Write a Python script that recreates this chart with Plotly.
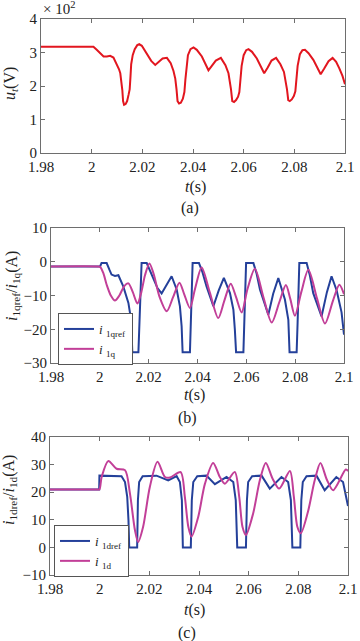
import plotly.graph_objects as go

# ---------------- data ----------------
# (a) terminal voltage u_t, in units of 1e2 V
t_a = [1.98, 2.0007, 2.002, 2.0035, 2.0047, 2.006, 2.0073, 2.0086, 2.0100, 2.0108,
       2.0113, 2.0118, 2.0121, 2.0124, 2.0128, 2.0134, 2.0140, 2.0146, 2.0150, 2.0153,
       2.0156, 2.0162, 2.0170, 2.0180, 2.0188, 2.0198, 2.0218, 2.0235, 2.0251, 2.0265,
       2.0280, 2.0297, 2.0312, 2.0323, 2.0330, 2.0335, 2.0339, 2.0345, 2.0352, 2.0360,
       2.0366, 2.0370, 2.0374, 2.0380, 2.0390, 2.0402, 2.0415, 2.0435, 2.0461, 2.0475,
       2.0490, 2.0510, 2.0528, 2.0540, 2.0546, 2.0550, 2.0555, 2.0562, 2.0570, 2.0578,
       2.0583, 2.0587, 2.0592, 2.0600, 2.0610, 2.0619, 2.0633, 2.0652, 2.0681, 2.0695,
       2.0710, 2.0728, 2.0745, 2.0759, 2.0766, 2.0771, 2.0776, 2.0782, 2.0790, 2.0798,
       2.0804, 2.0808, 2.0813, 2.0822, 2.0832, 2.0842, 2.0856, 2.0875, 2.0904, 2.0918,
       2.0935, 2.0951, 2.0965, 2.0978, 2.0990, 2.1000]
u_t = [3.17, 3.17, 3.08, 2.95, 2.88, 2.88, 2.90, 2.85, 2.65, 2.50,
       2.38, 2.15, 1.88, 1.55, 1.44, 1.46, 1.55, 1.75, 1.90, 2.25,
       2.65, 2.92, 3.10, 3.22, 3.25, 3.20, 2.95, 2.75, 2.63, 2.72,
       2.82, 2.84, 2.68, 2.45, 2.22, 1.90, 1.55, 1.48, 1.50, 1.62,
       1.82, 2.20, 2.60, 2.92, 3.10, 3.15, 3.08, 2.88, 2.47, 2.60,
       2.76, 2.84, 2.62, 2.38, 2.15, 1.90, 1.55, 1.52, 1.58, 1.68,
       1.82, 2.20, 2.60, 2.92, 3.07, 3.10, 3.02, 2.82, 2.38, 2.55,
       2.76, 2.84, 2.65, 2.42, 2.15, 1.90, 1.58, 1.55, 1.60, 1.70,
       1.84, 2.20, 2.60, 2.95, 3.07, 3.08, 2.98, 2.78, 2.35, 2.52,
       2.74, 2.84, 2.72, 2.52, 2.30, 2.05]

# (b) q-axis current reference i_1qref and current i_1q (A)
t_qref = [1.98, 2.0001, 2.0007, 2.0028, 2.0040, 2.0048, 2.0062, 2.0076, 2.0096, 2.0117,
          2.0128, 2.0133, 2.0158, 2.0162, 2.0166, 2.0171, 2.0192, 2.0205, 2.0219, 2.0236,
          2.0253, 2.0272, 2.0294, 2.0315, 2.0328, 2.0335, 2.0339, 2.0369, 2.0373, 2.0376,
          2.0380, 2.0406, 2.0420, 2.0437, 2.0465, 2.0487, 2.0508, 2.0533, 2.0547, 2.0553,
          2.0558, 2.0588, 2.0592, 2.0595, 2.0599, 2.0629, 2.0642, 2.0656, 2.0690, 2.0710,
          2.0731, 2.0758, 2.0772, 2.0777, 2.0806, 2.0810, 2.0813, 2.0817, 2.0847, 2.0860,
          2.0874, 2.0908, 2.0930, 2.0949, 2.0970, 2.0990, 2.1000]
i_qref = [-1.4, -1.4, -0.4, -0.4, -2.5, -3.8, -4.2, -4.0, -7.3, -12.2,
          -17.2, -26.8, -26.8, -18.0, -6.0, -0.4, -0.4, -2.5, -5.3, -7.8,
          -9.4, -7.0, -4.3, -8.3, -13.2, -19.1, -26.8, -26.8, -18.0, -6.0,
          -0.4, -0.4, -3.0, -7.3, -13.2, -8.5, -4.8, -9.3, -14.2, -20.1,
          -26.8, -26.8, -18.0, -6.0, -0.4, -0.4, -3.5, -8.3, -15.7, -9.5,
          -4.8, -11.2, -17.2, -26.8, -26.8, -18.0, -6.0, -0.4, -0.4, -4.0,
          -9.3, -16.2, -9.0, -4.3, -8.5, -15.0, -21.6]
t_q = [1.98, 1.999, 2.0001, 2.0015, 2.0028, 2.0045, 2.0062, 2.0080, 2.0100, 2.0117, 2.0135,
       2.0154, 2.0170, 2.0185, 2.0203, 2.0220, 2.0245, 2.0274, 2.0300, 2.0326, 2.0345,
       2.0369, 2.0390, 2.0417, 2.0450, 2.0485, 2.0510, 2.0536, 2.0558, 2.0581, 2.0605,
       2.0635, 2.0670, 2.0704, 2.0735, 2.0762, 2.0780, 2.0799, 2.0825, 2.0854, 2.0890,
       2.0922, 2.0955, 2.0981, 2.1000]
i_q = [-1.4, -1.4, -1.5, -3.5, -6.8, -10.0, -11.5, -10.0, -7.2, -6.4, -9.0,
       -12.4, -9.0, -4.0, -0.5, -3.5, -10.5, -14.7, -10.5, -6.2, -9.5,
       -13.7, -8.0, -1.7, -9.0, -16.7, -11.5, -6.5, -10.5, -15.0, -8.0,
       -2.1, -10.5, -18.0, -12.0, -6.9, -11.0, -16.0, -9.0, -2.4, -11.0,
       -18.3, -11.5, -6.8, -9.6]

# (c) d-axis current reference i_1dref and current i_1d (A)
t_dref = [1.98, 1.9998, 1.9999, 2.0040, 2.0088, 2.0102, 2.0111, 2.0116, 2.0119, 2.0151,
          2.0154, 2.0159, 2.0173, 2.0229, 2.0256, 2.0276, 2.0310, 2.0323, 2.0331, 2.0335,
          2.0367, 2.0371, 2.0377, 2.0393, 2.0430, 2.0464, 2.0511, 2.0538, 2.0548, 2.0554,
          2.0589, 2.0593, 2.0598, 2.0614, 2.0652, 2.0685, 2.0732, 2.0759, 2.0770, 2.0776,
          2.0808, 2.0812, 2.0818, 2.0833, 2.0873, 2.0906, 2.0953, 2.0980, 2.1000]
i_dref = [21.0, 21.0, 26.0, 26.0, 25.8, 23.7, 18.3, 9.9, 0.0, 0.0,
          17.1, 23.7, 25.8, 26.0, 24.9, 24.3, 25.8, 23.7, 17.1, 0.0,
          0.0, 17.1, 23.7, 25.8, 26.0, 22.9, 25.5, 23.7, 17.1, 0.0,
          0.0, 17.1, 23.7, 25.8, 26.0, 21.3, 25.5, 23.7, 17.1, 0.0,
          0.0, 17.1, 23.7, 25.8, 26.0, 20.7, 25.5, 23.7, 15.0]
t_d = [1.98, 1.999, 1.9999, 2.0008, 2.0035, 2.0068, 2.0102, 2.0122, 2.0142, 2.0155, 2.0175,
       2.0202, 2.0233, 2.0263, 2.0283, 2.0326, 2.0343, 2.0357, 2.0370, 2.0397, 2.0424,
       2.0457, 2.0484, 2.0504, 2.0544, 2.0562, 2.0575, 2.0589, 2.0618, 2.0645, 2.0669,
       2.0696, 2.0723, 2.0766, 2.0782, 2.0796, 2.0810, 2.0839, 2.0866, 2.0889, 2.0915,
       2.0940, 2.0991, 2.1000]
i_d = [21.0, 21.0, 21.0, 25.5, 31.3, 28.5, 28.0, 19.5, 6.3, 2.0, 7.5,
       21.9, 31.0, 25.5, 25.3, 27.3, 18.3, 7.5, 3.9, 11.1, 23.1,
       30.6, 25.5, 23.1, 27.3, 18.3, 7.5, 4.5, 12.3, 24.3, 30.6,
       25.0, 21.3, 27.7, 18.3, 7.5, 5.1, 13.0, 24.3, 30.6, 24.5,
       20.7, 28.2, 27.7]

x_ticks = [1.98, 2.0, 2.02, 2.04, 2.06, 2.08, 2.1]
x_tick_text = ["1.98", "2", "2.02", "2.04", "2.06", "2.08", "2.1"]

# ---------------- layout helpers ----------------
W, H = 360, 641
FONT = "Liberation Serif, Times New Roman, DejaVu Serif, serif"
RED, BLUE, PINK = "#E2161F", "#24409A", "#C23F98"
AXC = "#6e6e6e"


def fx(px):
    return px / W


def fy(py):
    return 1 - py / H


def axis(**kw):
    base = dict(showgrid=False, zeroline=False, showline=True, linecolor=AXC, linewidth=1,
                mirror="allticks", ticks="inside", ticklen=4, tickcolor=AXC, automargin=False,
                tickfont=dict(family=FONT, size=15, color="#222"))
    base.update(kw)
    return base


fig = go.Figure()
fig.add_trace(go.Scatter(x=t_a, y=u_t, mode="lines", line=dict(color=RED, width=2),
                         xaxis="x", yaxis="y", showlegend=False))
fig.add_trace(go.Scatter(x=t_qref, y=i_qref, mode="lines", line=dict(color=BLUE, width=2),
                         xaxis="x2", yaxis="y2", name="<i>i</i> <sub>1qref</sub>", legend="legend"))
fig.add_trace(go.Scatter(x=t_q, y=i_q, mode="lines", line=dict(color=PINK, width=2, shape="spline", smoothing=0.8),
                         xaxis="x2", yaxis="y2", name="<i>i</i> <sub>1q</sub>", legend="legend"))
fig.add_trace(go.Scatter(x=t_dref, y=i_dref, mode="lines", line=dict(color=BLUE, width=2),
                         xaxis="x3", yaxis="y3", name="<i>i</i> <sub>1dref</sub>", legend="legend2"))
fig.add_trace(go.Scatter(x=t_d, y=i_d, mode="lines", line=dict(color=PINK, width=2, shape="spline", smoothing=0.8),
                         xaxis="x3", yaxis="y3", name="<i>i</i> <sub>1d</sub>", legend="legend2"))

xcommon = dict(range=[1.98, 2.1], tickvals=x_ticks, ticktext=x_tick_text)
legend_style = dict(bgcolor="white", bordercolor="#555", borderwidth=1,
                    font=dict(family=FONT, size=13, color="#222"), itemwidth=30,
                    xanchor="left", yanchor="top", tracegroupgap=0)

fig.update_layout(
    template="none",
    width=W, height=H, margin=dict(l=0, r=0, t=0, b=0, pad=0, autoexpand=False),
    paper_bgcolor="white", plot_bgcolor="white",
    font=dict(family=FONT, color="#222"),
    xaxis=axis(domain=[fx(41), fx(345)], anchor="y", **xcommon),
    yaxis=axis(domain=[fy(153), fy(19)], anchor="x", range=[0, 4], tickvals=[0, 1, 2, 3, 4]),
    xaxis2=axis(domain=[fx(51), fx(344)], anchor="y2", **xcommon),
    yaxis2=axis(domain=[fy(363), fy(228)], anchor="x2", range=[-30, 10], tickvals=[-30, -20, -10, 0, 10]),
    xaxis3=axis(domain=[fx(50), fx(348)], anchor="y3", **xcommon),
    yaxis3=axis(domain=[fy(575), fy(437)], anchor="x3", range=[-10, 40], tickvals=[-10, 0, 10, 20, 30, 40]),
    legend=dict(x=fx(58), y=fy(313), **legend_style),
    legend2=dict(x=fx(54), y=fy(525), **legend_style),
)

ann = []


def note(text, x, y, size=16, angle=0, xanchor="center", yanchor="middle"):
    ann.append(dict(text=text, x=fx(x), y=fy(y), xref="paper", yref="paper", showarrow=False,
                    textangle=angle, xanchor=xanchor, yanchor=yanchor,
                    font=dict(family=FONT, size=size, color="#222")))


note("× 10<sup>2</sup>", 41, 19, size=15, xanchor="left", yanchor="bottom")
note("<i>u</i><sub><i>t</i></sub>(V)", 11, 84, angle=-90)
note("<i>t</i>(s)", 195, 187)
note("(a)", 190, 208)
note("<i>i</i><sub>1qref</sub>/<i>i</i><sub>1q</sub>(A)", 12, 286, angle=-90)
note("<i>t</i>(s)", 194, 395)
note("(b)", 187, 418)
note("<i>i</i><sub>1dref</sub>/<i>i</i><sub>1d</sub>(A)", 9, 490, angle=-90)
note("<i>t</i>(s)", 194, 610)
note("(c)", 187, 633)
fig.update_layout(annotations=ann)

fig.write_html("out.html", config={"displayModeBar": False},
               post_script="document.body.style.margin='0px';document.body.style.overflow='hidden';")
